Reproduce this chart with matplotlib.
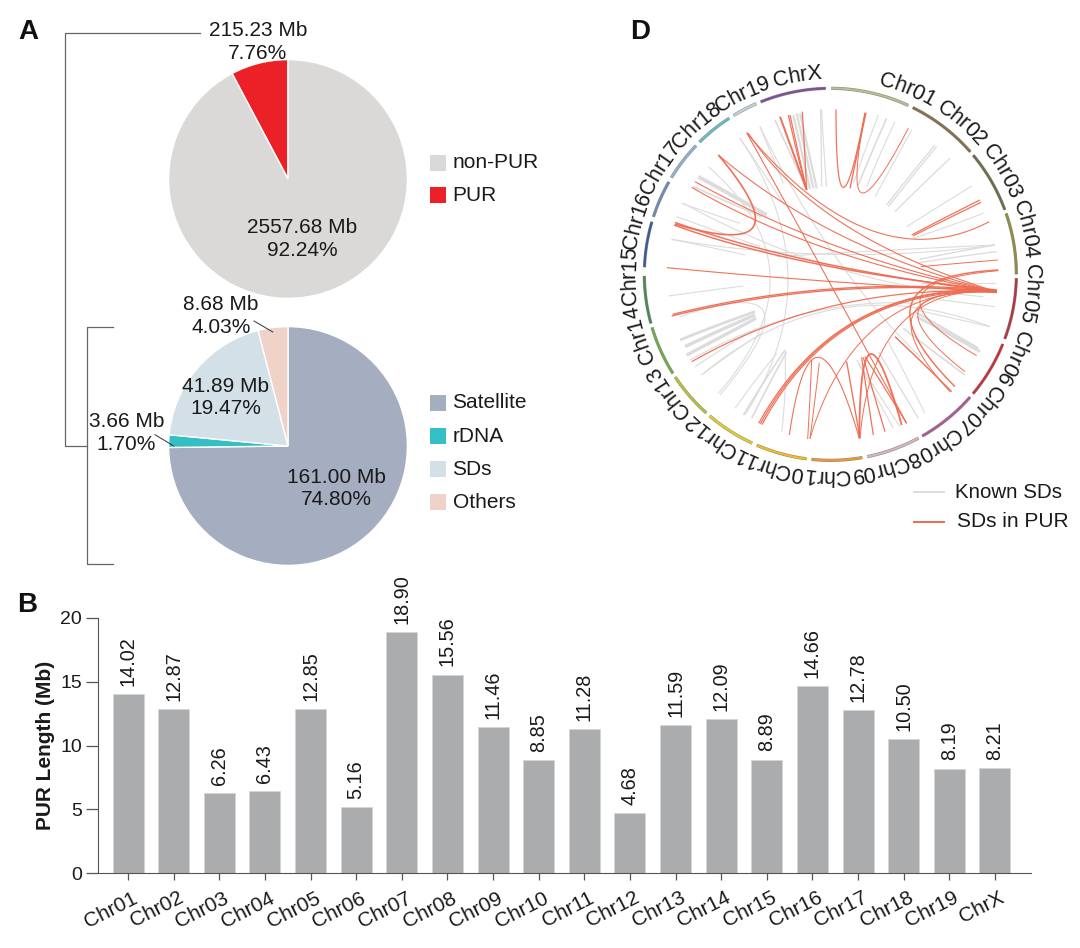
import numpy as np
import matplotlib
matplotlib.use("Agg")
from matplotlib import pyplot as plt
from matplotlib.patches import Rectangle
from matplotlib.transforms import ScaledTranslation

plt.rcParams['font.family'] = ['Liberation Sans', 'DejaVu Sans']

W, H = 1080, 948

# panel A
pur_labels = ["PUR", "non-PUR"]
pur_sizes = [215.23, 2557.68]
pur_colors = ["#EC2027", "#DAD9D7"]
comp_labels = ["Satellite", "rDNA", "SDs", "Others"]
comp_sizes = [161.00, 3.66, 41.89, 8.68]
comp_colors = ["#A5AEC0", "#33BFC4", "#D3E0E8", "#F0D3C8"]

# panel B
chroms = ["Chr01", "Chr02", "Chr03", "Chr04", "Chr05", "Chr06", "Chr07", "Chr08", "Chr09", "Chr10",
          "Chr11", "Chr12", "Chr13", "Chr14", "Chr15", "Chr16", "Chr17", "Chr18", "Chr19", "ChrX"]
pur_len = [14.02, 12.87, 6.26, 6.43, 12.85, 5.16, 18.90, 15.56, 11.46, 8.85,
           11.28, 4.68, 11.59, 12.09, 8.89, 14.66, 12.78, 10.50, 8.19, 8.21]

# panel D, ring arcs in degrees clockwise from 12 o'clock
ring_start = [0.3, 26.3, 50.2, 70.9, 91.2, 112, 131.3, 151.7, 170.1, 187.3,
              204.8, 221.8, 237.8, 254.7, 272.2, 288, 301.3, 315.3, 328.6, 338]
ring_end = [24.8, 48.8, 69.7, 90, 110.3, 129.9, 150.4, 168.6, 185.8, 203.3,
            220.5, 236.5, 253.4, 269.5, 286.4, 299.8, 313.8, 327.1, 336.6, 358.6]
ring_colors = ["#B9BE8C", "#8A6E45", "#6B6D45", "#8F8E3C", "#B8323F", "#D42B33", "#B2559B", "#DDB4BE",
               "#F0982A", "#F2BE1E", "#E3D11F", "#BCC32F", "#6BAF43", "#4B8A4E", "#3A5A9B", "#6C8BBB",
               "#8FB3D3", "#62BFCB", "#BFD7DE", "#7B4F9B"]
label_angle = [22.5, 40.9, 59, 77, 95.4, 114.5, 132, 149, 166, 183,
               200, 216.5, 234, 252.5, 269.5, 285.5, 302, 318, 334, 350.5]

gray_links = [
    (572, 118, 575, 350, 574, 240, 1.2), (435, 150, 530, 355, 480, 250, 1.5), (390, 170, 460, 340, 425, 255, 1),
    (330, 205, 460, 400, 395, 300, 1), (500, 130, 550, 355, 525, 240, 2), (490, 135, 540, 358, 515, 245, 2),
    (510, 130, 560, 355, 535, 240, 2), (575, 118, 590, 350, 580, 230, 1), (745, 135, 670, 340, 705, 240, 1),
    (770, 145, 685, 345, 725, 245, 1.5), (795, 155, 710, 350, 750, 250, 1), (845, 180, 735, 380, 790, 280, 1),
    (915, 225, 770, 405, 840, 315, 1.2), (920, 230, 775, 410, 845, 320, 1.2), (960, 265, 795, 425, 875, 345, 1.2),
    (1025, 348, 830, 470, 925, 410, 1), (1060, 430, 850, 505, 955, 470, 1), (1095, 525, 868, 568, 980, 545, 1.2),
    (1100, 545, 868, 578, 980, 560, 1.2), (1095, 640, 870, 640, 980, 640, 1), (1095, 710, 855, 680, 975, 695, 1),
    (1080, 770, 860, 720, 970, 745, 1), (1050, 845, 860, 740, 955, 790, 2.5), (1045, 835, 855, 725, 950, 780, 2),
    (1005, 915, 820, 775, 910, 845, 1.5), (865, 1045, 745, 845, 805, 945, 1.2), (885, 1030, 775, 815, 830, 920, 1),
    (810, 1070, 680, 870, 745, 970, 1), (790, 1075, 685, 880, 735, 975, 1), (455, 1085, 465, 840, 470, 960, 1),
    (340, 1035, 465, 840, 400, 935, 1.5), (365, 1045, 470, 845, 415, 945, 1.5), (315, 1015, 440, 850, 375, 930, 1),
    (125, 508, 345, 555, 235, 530, 1), (115, 678, 340, 648, 230, 662, 1), (140, 440, 390, 530, 265, 485, 1),
    (205, 320, 410, 435, 305, 375, 3.5), (190, 350, 395, 440, 290, 395, 1.5), (155, 400, 330, 460, 240, 430, 1),
    (150, 810, 375, 725, 260, 765, 2.5), (165, 830, 375, 735, 270, 780, 3), (170, 855, 378, 745, 275, 800, 3),
    (195, 890, 380, 775, 285, 830, 1), (215, 915, 395, 790, 300, 850, 1),
    (235, 290, 265, 970, 590, 600, 1), (330, 205, 345, 1035, 610, 620, 1), (150, 740, 270, 975, 590, 590, 1),
    (180, 870, 860, 700, 520, 680, 1), (215, 915, 1080, 770, 600, 590, 1), (160, 400, 1060, 680, 600, 640, 1),
    (125, 508, 1095, 525, 610, 590, 1), (390, 170, 870, 860, 600, 600, 1), (1095, 525, 440, 560, 760, 540, 1),
]
red_links = [
    (110, 593, 1100, 665, 600, 640, 1), (125, 738, 1100, 665, 600, 620, 1.2), (128, 733, 1100, 662, 600, 616, 1.2),
    (135, 457, 1100, 665, 500, 590, 1.3), (132, 465, 1100, 660, 500, 600, 1.3), (185, 352, 1100, 665, 560, 570, 1),
    (195, 335, 1100, 665, 600, 560, 1), (265, 255, 1100, 665, 600, 540, 1), (355, 190, 1100, 665, 560, 500, 1),
    (350, 188, 1078, 455, 726, 638, 1), (350, 188, 830, 1060, 590, 620, 1), (265, 255, 135, 462, 540, 582, 1.5),
    (185, 875, 1100, 665, 600, 640, 1.1), (386, 1060, 1100, 660, 620, 640, 1.1), (391, 1062, 1100, 662, 620, 642, 1.1),
    (396, 1064, 1100, 665, 620, 646, 1.1), (540, 1105, 1100, 665, 680, 640, 0.9), (478, 1095, 688, 1105, 547, 624, 1),
    (533, 1107, 545, 870, 540, 990, 0.9), (540, 1107, 568, 878, 555, 990, 0.9), (650, 875, 690, 1105, 670, 990, 1.2),
    (688, 1105, 815, 1065, 690, 620, 1.6), (730, 1095, 695, 862, 712, 980, 1.1), (765, 1085, 700, 862, 732, 975, 1.1),
    (830, 1060, 705, 860, 768, 960, 1.1), (1105, 600, 975, 950, 650, 625, 1.3), (1105, 602, 1040, 857, 670, 640, 0.9),
    (1100, 665, 960, 965, 670, 650, 0.9), (1100, 668, 1005, 905, 680, 650, 0.9), (618, 118, 705, 128, 618, 581, 1.1),
    (660, 355, 708, 128, 684, 240, 1.2), (705, 130, 835, 175, 620, 584, 0.9), (450, 140, 530, 360, 490, 250, 1.8),
    (475, 135, 530, 360, 500, 250, 1.1), (480, 135, 530, 360, 505, 250, 1.1), (517, 125, 530, 360, 524, 240, 1.1),
    (845, 495, 1050, 390, 945, 442, 1.1), (850, 497, 1053, 397, 950, 447, 1.1), (872, 590, 1103, 570, 985, 580, 0.9),
    (795, 800, 965, 965, 880, 880, 1.3), (1100, 665, 690, 1105, 730, 640, 0.9),
]

# advance widths of the label font, in em
char_w = {"C": 0.722, "h": 0.556, "r": 0.333, "X": 0.667}

fig = plt.figure(figsize=(W / 100, H / 100), dpi=100)


def px_axes(x0, y0, w, h):
    return fig.add_axes([x0 / W, 1 - (y0 + h) / H, w / W, h / H])


# top pie
ax1 = px_axes(168, 59, 240, 240)
ax1.pie(pur_sizes, colors=pur_colors, startangle=90, counterclock=True, radius=1,
        wedgeprops={"edgecolor": "white", "linewidth": 1})
ax1.set_xlim(-1.005, 1.005)
ax1.set_ylim(-1.005, 1.005)

# bottom pie
ax2 = px_axes(168, 326, 240, 240)
ax2.pie(comp_sizes, colors=comp_colors, startangle=90, counterclock=False, radius=1,
        wedgeprops={"edgecolor": "white", "linewidth": 1})
ax2.set_xlim(-1.005, 1.005)
ax2.set_ylim(-1.005, 1.005)

# bars
ax3 = px_axes(98, 618, 933, 255)
x = np.arange(len(chroms))
ax3.bar(x, pur_len, width=0.68, color="#ABACAE", edgecolor="#D5D5D6", linewidth=0.6)
for i, v in enumerate(pur_len):
    ax3.annotate("%.2f" % v, (i, v), xytext=(0, 6), textcoords="offset points", rotation=90,
                 ha="center", va="bottom", fontsize=14.3, color="#1a1a1a")
ax3.set_xlim(-0.66, 19.79)
ax3.set_ylim(0, 20)
ax3.set_yticks([0, 5, 10, 15, 20])
ax3.set_xticks(x)
ax3.set_xticklabels(chroms, rotation=27, ha="right", rotation_mode="anchor")
ax3.tick_params(axis="y", length=8.6, width=0.9, color="#555555", labelsize=14, pad=3, labelcolor="#1a1a1a")
ax3.tick_params(axis="x", length=5, width=0.9, color="#555555", labelsize=15, pad=6, labelcolor="#1a1a1a")
shift = ScaledTranslation(4 / 100, 0, fig.dpi_scale_trans)
for lab in ax3.get_xticklabels():
    lab.set_transform(lab.get_transform() + shift)
ax3.spines["top"].set_visible(False)
ax3.spines["right"].set_visible(False)
ax3.spines["left"].set_color("#555555")
ax3.spines["bottom"].set_color("#555555")
ax3.set_ylabel("PUR Length (Mb)", fontsize=15, fontweight="bold", color="#1a1a1a", labelpad=3.5)

# circle
ax4 = px_axes(630, 70, 410, 410)
ax4.set_xlim(0, 1230)
ax4.set_ylim(1230, 0)
ax4.axis("off")
cx, cy, R = 601, 613, 558
t = np.linspace(0, 1, 80)


def draw_links(links, color, alpha):
    for x1, y1, x2, y2, qx, qy, lw in links:
        px = (1 - t) ** 2 * x1 + 2 * t * (1 - t) * qx + t ** 2 * x2
        py = (1 - t) ** 2 * y1 + 2 * t * (1 - t) * qy + t ** 2 * y2
        ax4.plot(px, py, color=color, lw=lw * 0.8, alpha=alpha, solid_capstyle="butt", clip_on=False)


draw_links(gray_links, "#DCDCDC", 1)
draw_links(red_links, "#EF6A50", 0.95)

for s, e, c in zip(ring_start, ring_end, ring_colors):
    a = np.radians(np.linspace(s, e, 60))
    ax4.plot(cx + R * np.sin(a), cy - R * np.cos(a), color="#8C8C8C", lw=2.3, solid_capstyle="butt", clip_on=False)
    ax4.plot(cx + R * np.sin(a), cy - R * np.cos(a), color=c, lw=1.5, solid_capstyle="butt", clip_on=False)

# labels bend with the ring, one character at a time
label_fs = 15.5
label_r = 586
em = label_fs * 100 / 72 * 3  # font size in circle units
for name, ang in zip(chroms, label_angle):
    widths = [char_w.get(ch, 0.556) * em for ch in name]
    pos = -sum(widths) / 2
    for ch, w in zip(name, widths):
        a = ang + np.degrees((pos + w / 2) / (label_r + 25))
        ar = np.radians(a)
        ax4.text(cx + label_r * np.sin(ar), cy - label_r * np.cos(ar), ch, rotation=-a, rotation_mode="anchor",
                 ha="center", va="baseline", fontsize=label_fs, color="#1a1a1a", clip_on=False)
        pos += w

# annotation layer in pixels
ov = px_axes(0, 0, W, H)
ov.set_xlim(0, W)
ov.set_ylim(H, 0)
ov.axis("off")
ov.patch.set_alpha(0)

line_c = "#666666"
ov.plot([200, 64.6, 64.6, 87], [33.3, 33.3, 445.8, 445.8], color=line_c, lw=0.9)
ov.plot([113, 87, 87, 113], [326.7, 326.7, 563.5, 563.5], color=line_c, lw=0.9)
ov.plot([254, 272.8], [321, 332], color="#333333", lw=0.7)
ov.plot([155, 173.4], [434.7, 445.8], color="#333333", lw=0.7)

pie_text = [("215.23 Mb\n7.76%", 257.7, 42), ("2557.68 Mb\n92.24%", 302, 239),
            ("8.68 Mb\n4.03%", 220.7, 316), ("41.89 Mb\n19.47%", 225.4, 397.5),
            ("3.66 Mb\n1.70%", 126.3, 433), ("161.00 Mb\n74.80%", 336.7, 488.5)]
for s, tx, ty in pie_text:
    ov.text(tx, ty, s, ha="center", va="center", fontsize=15, color="#1a1a1a", linespacing=1.22)

legend_items = [("non-PUR", "#DAD9D7", 162.8), ("PUR", "#EC2027", 195.2), ("Satellite", "#A5AEC0", 403),
                ("rDNA", "#33BFC4", 436), ("SDs", "#D3E0E8", 469), ("Others", "#F0D3C8", 502)]
for name, c, ly in legend_items:
    ov.add_patch(Rectangle((430, ly - 8), 16, 16, facecolor=c, edgecolor="none"))
    ov.text(452.5, ly, name, ha="left", va="center", fontsize=15, color="#1a1a1a")

ov.plot([914, 944], [492, 492], color="#DCDCDC", lw=1.4)
ov.plot([914, 944], [521.7, 521.7], color="#EF6A50", lw=1.4)
ov.text(955, 492, "Known SDs", ha="left", va="center", fontsize=14.8, color="#1a1a1a")
ov.text(957, 521.7, "SDs in PUR", ha="left", va="center", fontsize=15, color="#1a1a1a")

for s, tx, ty in [("A", 28, 32), ("B", 27, 605), ("D", 640, 32)]:
    ov.text(tx, ty, s, ha="center", va="center", fontsize=20, fontweight="bold", color="#111111")

fig.savefig("out.png", dpi=100)
